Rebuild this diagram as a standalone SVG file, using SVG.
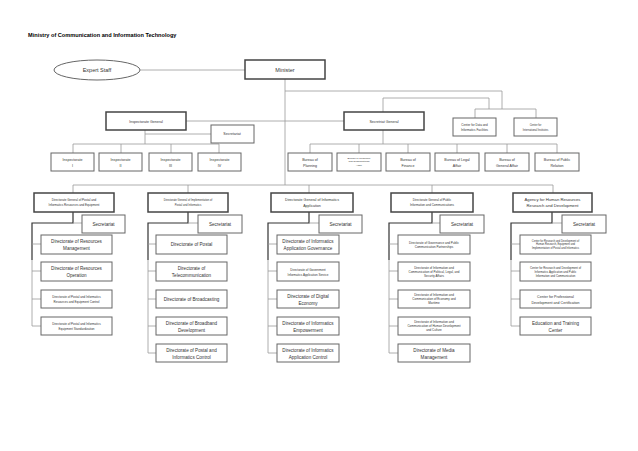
<svg xmlns="http://www.w3.org/2000/svg" width="638" height="451" viewBox="0 0 638 451">
<style>
text{font-family:"Liberation Sans",Arial,sans-serif;fill:#333;text-anchor:middle}
.b{fill:#fff;stroke:#666;stroke-width:1}
.m{fill:#fff;stroke:#444;stroke-width:1.5}
.c path{fill:none;stroke:#999;stroke-width:0.8}
.c .d{stroke:#333;stroke-width:1.2}
.t{font-size:3px}.s{font-size:3.6px}.n{font-size:4.6px}.l{font-size:5.5px}
</style>
<rect width="638" height="451" fill="#fff"/>
<text x="28" y="37" style="font-size:5.6px;font-weight:bold;text-anchor:start;fill:#000">Ministry of Communication and Information Technology</text>
<g class="c" id="connectors">
<path d="M140,70H245M285,79V185M285,91H502V109M383,112V98H489V109M475,118V109H536V118"/>
<path d="M186,121H344M145,130V144M145,134H211M73,144H219M73,144V153M121,144V153M171,144V153M219,144V153"/>
<path d="M383,130V144M310,144H557M310,144V153M359,144V153M408,144V153M457,144V153M507,144V153M557,144V153"/>
<path d="M73,185H553M73,185V193M188,185V193M309,185V193M432,185V193M553,185V193"/>
<path class="d" d="M73,212V223H32V260M188,212V223H148V260M309,212V223H268V260M432,212V223H389V260M552,212V223H511V260"/>
<path d="M73,223H82M188,223H198M309,223H319M432,223H440M552,223H562"/>
<path d="M32,260V326M32,244H41M32,271H41M32,299H41M32,326H41"/>
<path d="M148,260V353M148,244H156M148,271H156M148,299H156M148,326H156M148,353H156"/>
<path d="M268,260V353M268,244H277M268,271H277M268,299H277M268,326H277M268,353H277"/>
<path d="M389,260V353M389,244H398M389,271H398M389,299H398M389,326H398M389,353H398"/>
<path d="M511,260V326M511,244H520M511,271H520M511,299H520M511,326H520"/>
</g>
<g id="expert"><ellipse cx="97" cy="70" rx="43" ry="10" class="b"/><text x="97" y="72" class="l">Expert Staff</text></g>
<g id="minister"><rect x="245" y="60" width="80" height="19" class="m"/><text x="285" y="72" class="l">Minister</text></g>
<g id="insp-gen"><rect x="106" y="112" width="80" height="18" class="m"/><text x="146" y="123" class="s">Inspectorate General</text></g>
<g id="insp-sec"><rect x="211" y="125" width="43" height="18" class="b"/><text x="232" y="135" class="s">Secretariat</text></g>
<g id="sec-gen"><rect x="344" y="112" width="80" height="18" class="m"/><text x="384" y="123" class="s">Secretriat General</text></g>
<g id="center-data"><rect x="453" y="118" width="43" height="18" class="b"/><text x="474.5" y="126" class="t">Center for Data and</text><text x="474.5" y="131" class="t">Informatics Facilities</text></g>
<g id="center-intl"><rect x="514" y="118" width="43" height="18" class="b"/><text x="535.5" y="126" style="font-size:2.6px">Center for</text><text x="535.5" y="130.5" style="font-size:2.6px">International Institutes</text></g>
<g id="insp1"><rect x="51" y="153" width="43" height="18" class="b"/><text x="72.5" y="160.5" class="s">Inspectorate</text><text x="72.5" y="166.5" class="s">I</text></g>
<g id="insp2"><rect x="99" y="153" width="43" height="18" class="b"/><text x="120.5" y="160.5" class="s">Inspectorate</text><text x="120.5" y="166.5" class="s">II</text></g>
<g id="insp3"><rect x="149" y="153" width="43" height="18" class="b"/><text x="170.5" y="160.5" class="s">Inspectorate</text><text x="170.5" y="166.5" class="s">III</text></g>
<g id="insp4"><rect x="198" y="153" width="43" height="18" class="b"/><text x="219.5" y="160.5" class="s">Inspectorate</text><text x="219.5" y="166.5" class="s">IV</text></g>
<g id="bur1"><rect x="288" y="153" width="44" height="18" class="b"/><text x="310" y="160.5" class="s">Bureau of</text><text x="310" y="166.5" class="s">Planning</text></g>
<g id="bur2"><rect x="337" y="153" width="44" height="18" class="b"/><text x="359" y="158.5" style="font-size:2.5px">Bureau of Personnel</text><text x="359" y="162" style="font-size:2.5px">and Organizational</text><text x="359" y="165.5" style="font-size:2.5px">Affair</text></g>
<g id="bur3"><rect x="386" y="153" width="44" height="18" class="b"/><text x="408" y="160.5" class="s">Bureau of</text><text x="408" y="166.5" class="s">Finance</text></g>
<g id="bur4"><rect x="435" y="153" width="44" height="18" class="b"/><text x="457" y="160.5" class="s">Bureau of Legal</text><text x="457" y="166.5" class="s">Affair</text></g>
<g id="bur5"><rect x="485" y="153" width="44" height="18" class="b"/><text x="507" y="160.5" class="s">Bureau of</text><text x="507" y="166.5" class="s">General Affair</text></g>
<g id="bur6"><rect x="535" y="153" width="44" height="18" class="b"/><text x="557" y="160.5" class="s">Bureau of Public</text><text x="557" y="166.5" class="s">Relation</text></g>

<g id="dg1"><rect x="34" y="193" width="80" height="19" class="m"/><text x="74" y="201" class="t">Directorate General of Postal and</text><text x="74" y="206" class="t">Informatics Resources and Equipment</text></g>
<g id="dg2"><rect x="148" y="193" width="80" height="19" class="m"/><text x="188" y="201" style="font-size:2.7px">Directorate General of Implementation of</text><text x="188" y="205.5" style="font-size:2.7px">Postal and Informatics</text></g>
<g id="dg3"><rect x="271" y="193" width="82" height="19" class="m"/><text x="312" y="201" class="s">Directorate General of Informatics</text><text x="312" y="207" class="s">Application</text></g>
<g id="dg4"><rect x="391" y="193" width="82" height="19" class="m"/><text x="432" y="201" class="t">Directorate General of Public</text><text x="432" y="206" class="t">Information and Communications</text></g>
<g id="dg5"><rect x="513" y="193" width="79" height="19" class="m"/><text x="552.5" y="201" style="font-size:4.2px">Agency for Human Resources</text><text x="552.5" y="207" style="font-size:4.2px">Research and Development</text></g>

<g id="sec1"><rect x="82" y="215" width="43" height="18" class="b"/><text x="103.5" y="225.5" class="n">Secretariat</text></g>
<g id="sec2"><rect x="198" y="215" width="44" height="18" class="b"/><text x="220" y="225.5" class="n">Secretariat</text></g>
<g id="sec3"><rect x="319" y="215" width="43" height="18" class="b"/><text x="340.5" y="225.5" class="n">Secretariat</text></g>
<g id="sec4"><rect x="440" y="215" width="44" height="18" class="b"/><text x="462" y="225.5" class="n">Secretariat</text></g>
<g id="sec5"><rect x="562" y="215" width="44" height="18" class="b"/><text x="584" y="225.5" class="n">Secretariat</text></g>

<g id="p1"><rect x="41" y="235" width="71" height="19" class="b"/><text x="76.5" y="243" class="n">Directorate of Resources</text><text x="76.5" y="249.5" class="n">Management</text></g>
<g id="p2"><rect x="41" y="262" width="71" height="19" class="b"/><text x="76.5" y="270" class="n">Directorate of Resources</text><text x="76.5" y="276.5" class="n">Operation</text></g>
<g id="p3"><rect x="41" y="290" width="71" height="18" class="b"/><text x="76.5" y="298" class="t">Directorate of Postal and Informatics</text><text x="76.5" y="302.5" class="t">Resources and Equipment Control</text></g>
<g id="p4"><rect x="41" y="317" width="71" height="18" class="b"/><text x="76.5" y="325" class="t">Directorate of Postal and Informatics</text><text x="76.5" y="329.5" class="t">Equipment Standardization</text></g>

<g id="i1"><rect x="156" y="235" width="71" height="19" class="b"/><text x="191.5" y="246" class="n">Directorate of Postal</text></g>
<g id="i2"><rect x="156" y="262" width="71" height="19" class="b"/><text x="191.5" y="270" class="n">Directorate of</text><text x="191.5" y="276.5" class="n">Telecommunication</text></g>
<g id="i3"><rect x="156" y="290" width="71" height="18" class="b"/><text x="191.5" y="300.5" class="n">Directorate of Broadcasting</text></g>
<g id="i4"><rect x="156" y="317" width="71" height="18" class="b"/><text x="191.5" y="325" class="n">Directorate of Broadband</text><text x="191.5" y="331.5" class="n">Development</text></g>
<g id="i5"><rect x="156" y="344" width="71" height="18" class="b"/><text x="191.5" y="352" class="n">Directorate of Postal and</text><text x="191.5" y="358.5" class="n">Informatics Control</text></g>

<g id="a1"><rect x="277" y="235" width="62" height="19" class="b"/><text x="308" y="243" class="n">Directorate of Informatics</text><text x="308" y="249.5" class="n">Application Governance</text></g>
<g id="a2"><rect x="277" y="262" width="62" height="19" class="b"/><text x="308" y="270.5" class="t">Directorate of Government</text><text x="308" y="275.5" class="t">Informatics Application Service</text></g>
<g id="a3"><rect x="277" y="290" width="62" height="18" class="b"/><text x="308" y="298" class="n">Directorate of Digital</text><text x="308" y="304.5" class="n">Economy</text></g>
<g id="a4"><rect x="277" y="317" width="62" height="18" class="b"/><text x="308" y="325" class="n">Directorate of Informatics</text><text x="308" y="331.5" class="n">Empowerment</text></g>
<g id="a5"><rect x="277" y="344" width="62" height="18" class="b"/><text x="308" y="352" class="n">Directorate of Informatics</text><text x="308" y="358.5" class="n">Application Control</text></g>

<g id="q1"><rect x="398" y="235" width="72" height="19" class="b"/><text x="434" y="243.5" class="t">Directorate of Governance and Public</text><text x="434" y="248" class="t">Communication Partnerships</text></g>
<g id="q2"><rect x="398" y="262" width="72" height="19" class="b"/><text x="434" y="268.5" class="t">Directorate of Information and</text><text x="434" y="272.5" class="t">Communication of Political, Legal, and</text><text x="434" y="276.5" class="t">Security Affairs</text></g>
<g id="q3"><rect x="398" y="290" width="72" height="18" class="b"/><text x="434" y="296" class="t">Directorate of Information and</text><text x="434" y="300" class="t">Communication of Economy and</text><text x="434" y="304" class="t">Maritime</text></g>
<g id="q4"><rect x="398" y="317" width="72" height="18" class="b"/><text x="434" y="323" class="t">Directorate of Information and</text><text x="434" y="327" class="t">Communication of Human Development</text><text x="434" y="331" class="t">and Culture</text></g>
<g id="q5"><rect x="398" y="344" width="72" height="18" class="b"/><text x="434" y="352" class="n">Directorate of Media</text><text x="434" y="358.5" class="n">Management</text></g>

<g id="g1"><rect x="520" y="235" width="71" height="19" class="b"/><text x="555.5" y="241.5" style="font-size:2.6px">Center for Research and Development of</text><text x="555.5" y="245.3" style="font-size:2.6px">Human Research, Equipment and</text><text x="555.5" y="249.1" style="font-size:2.6px">Implementation of Postal and Informatics</text></g>
<g id="g2"><rect x="520" y="262" width="71" height="19" class="b"/><text x="555.5" y="268.5" style="font-size:2.8px">Center for Research and Development of</text><text x="555.5" y="272.5" style="font-size:2.8px">Informatics Application and Public</text><text x="555.5" y="276.5" style="font-size:2.8px">Information and Communication</text></g>
<g id="g3"><rect x="520" y="290" width="71" height="18" class="b"/><text x="555.5" y="298" class="s">Center for Professional</text><text x="555.5" y="304" class="s">Development and Certification</text></g>
<g id="g4"><rect x="520" y="317" width="71" height="18" class="b"/><text x="555.5" y="325" class="n">Education and Training</text><text x="555.5" y="331.5" class="n">Center</text></g>
</svg>
